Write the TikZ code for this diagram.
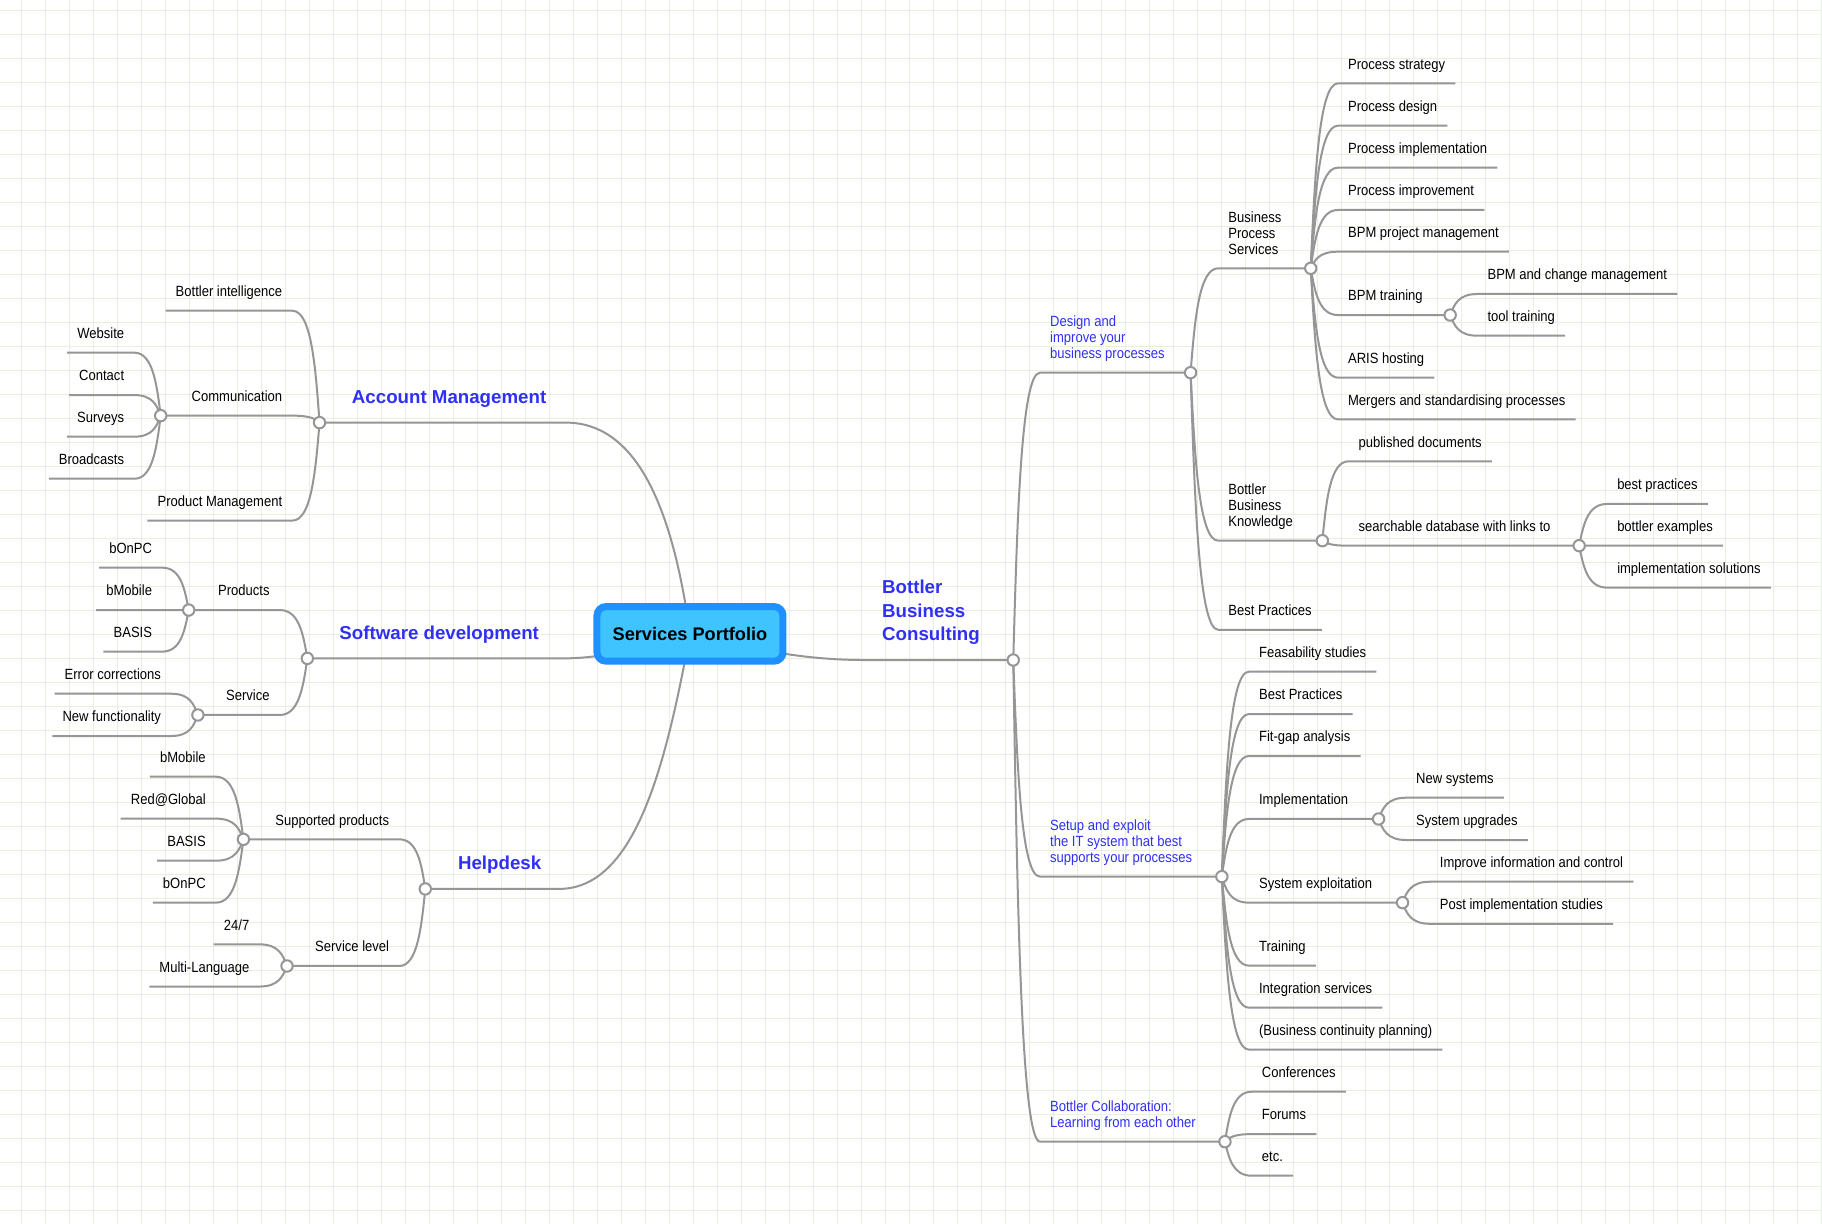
\documentclass[tikz,border=0pt]{standalone}
\usepackage{fontspec}
\setmainfont{Liberation Sans}
\newfontfamily\leaffont{Liberation Sans}[FakeStretch=0.88]
\usetikzlibrary{calc}
\definecolor{gridgreen}{RGB}{231,240,224}
\definecolor{linegray}{RGB}{150,150,150}
\definecolor{topicblue}{RGB}{48,48,245}
\definecolor{hubfill}{RGB}{64,196,255}
\definecolor{hubborder}{RGB}{30,144,255}
\tikzset{
  gridline/.style={draw=gridgreen, line width=1pt},
  conn/.style={draw=linegray, line width=2pt},
  link/.style={to path={let \p1=(\tikztostart), \p2=(\tikztotarget) in
      .. controls ({0.85*\x1+0.15*\x2},{0.5*\y1+0.5*\y2}) and ({0.7*\x1+0.3*\x2},\y2) .. (\tikztotarget)}},
  topicr/.style={font=\leaffont\fontsize{14.8}{16}\selectfont, anchor=south west,
      inner xsep=10pt, inner ysep=14pt, text depth=0pt, align=left},
  topicl/.style={topicr, anchor=south east, align=right},
  subtopic/.style={text=topicblue},
  maintopic/.style={font=\bfseries\fontsize{18.7}{23.8}\selectfont, text=topicblue,
      inner xsep=0pt, inner ysep=19pt, text depth=0pt, anchor=south},
  hubnode/.style={draw=hubborder, line width=7pt, fill=hubfill, rounded corners=9pt,
      minimum width=186pt, minimum height=54.6pt, inner sep=0pt,
      font=\bfseries\fontsize{18.2}{22}\selectfont},
  dot/.style={draw=linegray, line width=2pt, fill=white}
}
\begin{document}
\begin{tikzpicture}[x=1.162pt,y=-1.162pt]
    \useasboundingbox (0,0) rectangle (1568,1053);
    \fill[white] (0,0) rectangle (1568,1053);
    \begin{scope}[x=1pt,y=-1pt]
        \foreach \i in {0,...,75} {
            \draw[gridline] (21.3+24*\i,0) -- (21.3+24*\i,1224);
        }
        \foreach \j in {0,...,50} {
            \draw[gridline] (0,10.5+24*\j) -- (1822,10.5+24*\j);
        }
    \end{scope}

    \coordinate (hub) at (593.8,545.5);
    \coordinate (jam) at (275,363.7);
    \coordinate (amend) at (487,363.7);
    \coordinate (jsd) at (264.5,566.6);
    \coordinate (sdend) at (484,566.6);
    \coordinate (jhd) at (366,765);
    \coordinate (hdend) at (481,765);
    \coordinate (jbbc) at (872,568);
    \coordinate (bbcstart) at (745,568);
    \draw[conn] (hub) .. controls (578,430) and (545,363.7) .. (amend) -- (jam);
    \draw[conn] (hub) .. controls (545,560) and (515,566.6) .. (sdend) -- (jsd);
    \draw[conn] (hub) .. controls (572,665) and (545,765) .. (hdend) -- (jhd);
    \draw[conn] (hub) .. controls (660,562) and (700,568) .. (bbcstart) -- (jbbc);
    \node[maintopic] (am) at (386.5,363.7) {Account Management};
    \node[maintopic] (sd) at (378,566.6) {Software development};
    \node[maintopic] (hd) at (430,765) {Helpdesk};
    \node[maintopic, anchor=south west, align=left] (bbc) at (759,568) {Bottler\\Business\\Consulting};

    \node[topicr, subtopic] (des) at (895,320.7) {Design and\\improve your\\business processes};
    \coordinate (jdes) at (1024.6,320.7);
    \draw[conn] (jbbc) to[link] (des.south west) -- (jdes);
    \node[topicr, subtopic] (setup) at (895,754.4) {Setup and exploit\\the IT system that best\\supports your processes};
    \coordinate (jset) at (1051.5,754.4);
    \draw[conn] (jbbc) to[link] (setup.south west) -- (jset);
    \node[topicr, subtopic] (collab) at (895,982.5) {Bottler Collaboration:\\Learning from each other};
    \coordinate (jcol) at (1054.2,982.5);
    \draw[conn] (jbbc) to[link] (collab.south west) -- (jcol);

    \node[topicr] (bps) at (1048.4,230.9) {Business\\Process\\Services};
    \coordinate (jbps) at (1128,230.9);
    \draw[conn] (jdes) to[link] (bps.south west) -- (jbps);
    \foreach \nm/\yy/\tx in {ps/71.7/Process strategy, pd/108.2/Process design,
        pimp/144.3/Process implementation, pimpr/180.7/Process improvement,
        bpmpm/216.6/BPM project management, aris/325/ARIS hosting,
        merg/360.9/Mergers and standardising processes} {
        \node[topicr] (\nm) at (1151.4,\yy) {\tx};
        \draw[conn] (jbps) to[link] (\nm.south west) -- (\nm.south east);
    }
    \node[topicr] (bpmt) at (1151.4,271.1) {BPM training};
    \coordinate (jbpt) at (1248,271.1);
    \draw[conn] (jbps) to[link] (bpmt.south west) -- (jbpt);
    \foreach \nm/\yy/\tx in {bpmcm/253/BPM and change management, tooltr/288.9/tool training} {
        \node[topicr] (\nm) at (1271.4,\yy) {\tx};
        \draw[conn] (jbpt) to[link] (\nm.south west) -- (\nm.south east);
    }

    \node[topicr] (bbk) at (1048.4,465.3) {Bottler\\Business\\Knowledge};
    \coordinate (jbbk) at (1138,465.3);
    \draw[conn] (jdes) to[link] (bbk.south west) -- (jbbk);
    \node[topicr] (pubdoc) at (1160.4,397) {published documents};
    \draw[conn] (jbbk) to[link] (pubdoc.south west) -- (pubdoc.south east);
    \node[topicr] (sdb) at (1160.4,469.6) {searchable database with links to};
    \coordinate (jsdb) at (1359,469.6);
    \draw[conn] (jbbk) to[link] (sdb.south west) -- (jsdb);
    \foreach \nm/\yy/\tx in {bestpr/433.7/best practices, botex/469.6/bottler examples,
        implsol/505.7/implementation solutions} {
        \node[topicr] (\nm) at (1383,\yy) {\tx};
        \draw[conn] (jsdb) to[link] (\nm.south west) -- (\nm.south east);
    }
    \node[topicr] (bestpr1) at (1048.4,542) {Best Practices};
    \draw[conn] (jdes) to[link] (bestpr1.south west) -- (bestpr1.south east);

    \foreach \nm/\yy/\tx in {feas/578/Feasability studies, bestpr2/614.5/Best Practices,
        fitgap/650.6/Fit-gap analysis, train/831/Training, integ/867.2/Integration services,
        bcp/903.3/(Business continuity planning)} {
        \node[topicr] (\nm) at (1074.8,\yy) {\tx};
        \draw[conn] (jset) to[link] (\nm.south west) -- (\nm.south east);
    }
    \node[topicr] (impl) at (1074.8,704.8) {Implementation};
    \coordinate (jimp) at (1186.4,704.8);
    \draw[conn] (jset) to[link] (impl.south west) -- (jimp);
    \foreach \nm/\yy/\tx in {newsys/686.5/New systems, sysup/722.9/System upgrades} {
        \node[topicr] (\nm) at (1210,\yy) {\tx};
        \draw[conn] (jimp) to[link] (\nm.south west) -- (\nm.south east);
    }
    \node[topicr] (sysex) at (1074.8,776.8) {System exploitation};
    \coordinate (jsx) at (1207,776.8);
    \draw[conn] (jset) to[link] (sysex.south west) -- (jsx);
    \foreach \nm/\yy/\tx in {infoctl/758.8/Improve information and control,
        postimpl/795/Post implementation studies} {
        \node[topicr] (\nm) at (1230.4,\yy) {\tx};
        \draw[conn] (jsx) to[link] (\nm.south west) -- (\nm.south east);
    }
    \foreach \nm/\yy/\tx in {conf/939.5/Conferences, forums/976/Forums, etcet/1011.8/etc.} {
        \node[topicr] (\nm) at (1077.2,\yy) {\tx};
        \draw[conn] (jcol) to[link] (\nm.south west) -- (\nm.south east);
    }

    \foreach \nm/\yy/\tx in {bintel/267.4/Bottler intelligence, prodman/448/Product Management} {
        \node[topicl] (\nm) at (251.6,\yy) {\tx};
        \draw[conn] (jam) to[link] (\nm.south east) -- (\nm.south west);
    }
    \node[topicl] (comm) at (251.6,357.7) {Communication};
    \coordinate (jcomm) at (138.3,357.7);
    \draw[conn] (jam) to[link] (comm.south east) -- (jcomm);
    \foreach \nm/\yy/\tx in {web/303.5/Website, contact/340/Contact, surveys/375.8/Surveys,
        bcasts/412/Broadcasts} {
        \node[topicl] (\nm) at (115.6,\yy) {\tx};
        \draw[conn] (jcomm) to[link] (\nm.south east) -- (\nm.south west);
    }

    \node[topicl] (prod) at (240.8,525) {Products};
    \coordinate (jprod) at (162.4,525);
    \draw[conn] (jsd) to[link] (prod.south east) -- (jprod);
    \node[topicl] (serv) at (240.8,615.3) {Service};
    \coordinate (jserv) at (170.3,615.3);
    \draw[conn] (jsd) to[link] (serv.south east) -- (jserv);
    \foreach \nm/\yy/\tx in {bonpc/488.5/bOnPC, bmob/525/bMobile, basis/560.8/BASIS} {
        \node[topicl] (\nm) at (139.6,\yy) {\tx};
        \draw[conn] (jprod) to[link] (\nm.south east) -- (\nm.south west);
    }
    \foreach \nm/\yy/\tx in {errcor/597/Error corrections, newfn/633.4/New functionality} {
        \node[topicl] (\nm) at (147.3,\yy) {\tx};
        \draw[conn] (jserv) to[link] (\nm.south east) -- (\nm.south west);
    }

    \node[topicl] (supp) at (343.6,722.3) {Supported products};
    \coordinate (jsupp) at (209.5,722.3);
    \draw[conn] (jhd) to[link] (supp.south east) -- (jsupp);
    \node[topicl] (slev) at (343.6,831.3) {Service level};
    \coordinate (jslev) at (247,831.3);
    \draw[conn] (jhd) to[link] (slev.south east) -- (jslev);
    \foreach \nm/\yy/\tx in {bmobb/668.4/bMobile, redgl/704.5/Red@Global, basiss/740.7/BASIS,
        bonpcc/776.8/bOnPC} {
        \node[topicl] (\nm) at (185.8,\yy) {\tx};
        \draw[conn] (jsupp) to[link] (\nm.south east) -- (\nm.south west);
    }
    \foreach \nm/\yy/\tx in {allday/812.7/{24/7}, multil/849/Multi-Language} {
        \node[topicl] (\nm) at (223.3,\yy) {\tx};
        \draw[conn] (jslev) to[link] (\nm.south east) -- (\nm.south west);
    }

    \foreach \c in {jam,jsd,jhd,jbbc,jdes,jset,jcol,jbps,jbpt,jbbk,jsdb,jimp,jsx,
        jcomm,jprod,jserv,jsupp,jslev} {
        \draw[dot] (\c) circle[radius=5.7pt];
    }
    \node[hubnode] (sp) at (hub) {Services Portfolio};
\end{tikzpicture}
\end{document}
